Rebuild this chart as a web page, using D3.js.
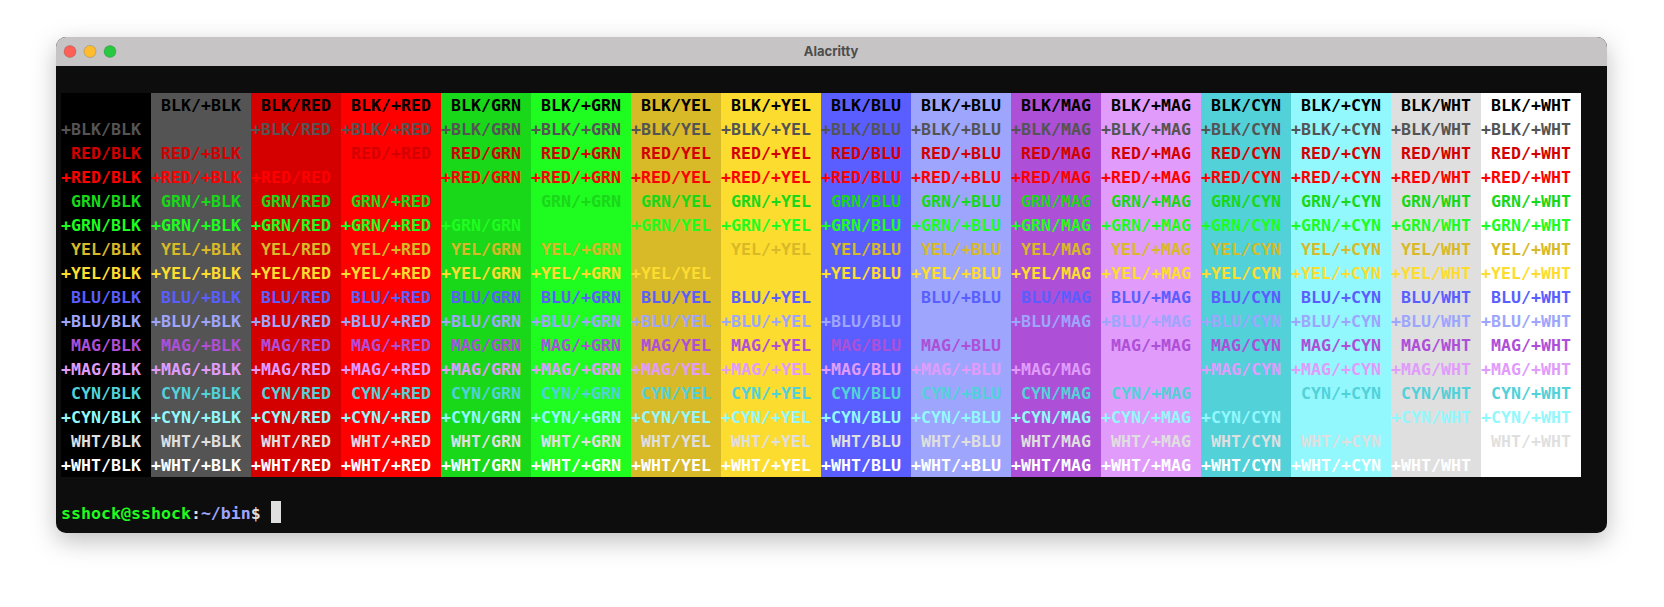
<!DOCTYPE html>
<html><head><meta charset="utf-8">
<script src="https://cdn.jsdelivr.net/npm/d3@7"></script>
<style>body{margin:0;background:#fff}</style>
</head><body>
<script>
var W = 1664, H = 607;
var names = ["BLK","+BLK","RED","+RED","GRN","+GRN","YEL","+YEL","BLU","+BLU","MAG","+MAG","CYN","+CYN","WHT","+WHT"];
var colors = ["#000000","#545454","#d40000","#ff0000","#19d719","#1ffc1f","#d8b928","#fddc30","#5a5eff","#9ea5fd","#ad4fd7","#e19cfb","#52d1d9","#92f8fd","#dfdfdf","#ffffff"];
var charW = 10, rowH = 24, x0 = 61, y0 = 93;

var svg = d3.select("body").append("svg").attr("width", W).attr("height", H);
var defs = svg.append("defs");
var f = defs.append("filter").attr("id","sh").attr("x","-10%").attr("y","-10%").attr("width","120%").attr("height","130%");
f.append("feDropShadow").attr("dx",0).attr("dy",8).attr("stdDeviation",12).attr("flood-color","#000").attr("flood-opacity",0.25);

//WINDOW
svg.append("rect").attr("x",56).attr("y",37).attr("width",1551).attr("height",496).attr("rx",10).attr("fill","#0a0a0a").attr("filter","url(#sh)");
svg.append("path").attr("d","M56,66 V47 a10,10 0 0 1 10,-10 H1597 a10,10 0 0 1 10,10 V66 Z").attr("fill","#c6c4c5");
[["#fe5f57",70],["#febc2e",90],["#28c840",110]].forEach(function(b){
  svg.append("circle").attr("cx",b[1]).attr("cy",51.5).attr("r",6).attr("fill",b[0]).attr("stroke","rgba(0,0,0,0.15)");
});
svg.append("text").attr("x",831).attr("y",56).attr("text-anchor","middle").attr("font-family","Inter, Noto Sans, sans-serif")
  .attr("font-weight",700).attr("font-size",13).attr("fill","#4d4d4d").text("Alacritty");

//COLUMN POSITIONS
var colW = names.map(function(n){ return (n.length + 6) * charW; });
var colX = [];
colW.reduce(function(acc, w, i){ colX[i] = acc; return acc + w; }, x0);
var y = d3.scaleBand().domain(d3.range(16)).range([y0, y0 + 16*rowH]);

var cols = svg.append("g").selectAll("g").data(names).join("g");
cols.append("rect").attr("x",function(d,i){return colX[i];}).attr("y",y0)
  .attr("width",function(d,i){return colW[i];}).attr("height",16*rowH)
  .attr("fill",function(d,i){return colors[i];});
cols.each(function(bg, bi){
  d3.select(this).selectAll("text").data(names).join("text")
    .attr("x", colX[bi]).attr("y", function(d,fi){ return y(fi) + 18; })
    .attr("font-family","DejaVu Sans Mono, monospace").attr("font-weight",700).attr("font-size",16.6)
    .attr("fill", function(d,fi){ return colors[fi]; })
    .attr("xml:space","preserve").style("white-space","pre")
    .text(function(fg){ return (fg[0]==="+" ? "" : " ") + fg + "/" + bg; });
});

//PROMPT
var p = svg.append("text").attr("x",61).attr("y",519).attr("font-family","DejaVu Sans Mono, monospace")
  .attr("font-weight",700).attr("font-size",16.6);
p.append("tspan").attr("fill","#1ffc1f").text("sshock@sshock");
p.append("tspan").attr("fill","#dfdfdf").text(":");
p.append("tspan").attr("fill","#9ea5fd").text("~/bin");
p.append("tspan").attr("fill","#dfdfdf").text("$");
svg.append("rect").attr("x",271).attr("y",501).attr("width",10).attr("height",22).attr("fill","#dfdfdf");
</script>
</body></html>
